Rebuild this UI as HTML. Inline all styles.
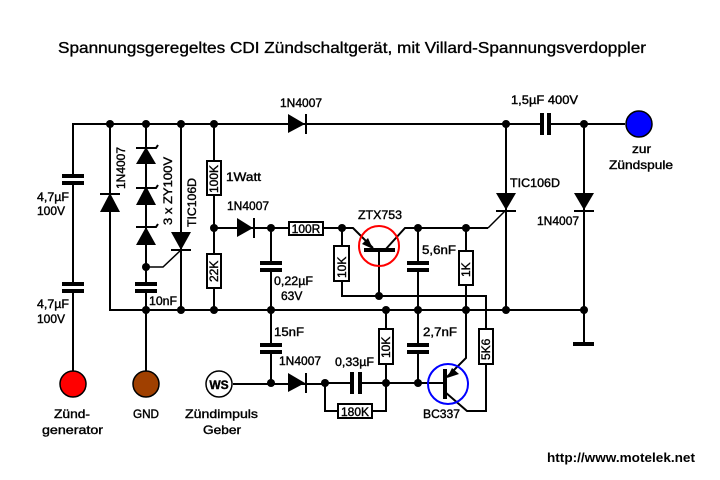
<!DOCTYPE html>
<html><head><meta charset="utf-8"><style>
html,body{margin:0;padding:0;background:#fff}
svg{display:block}
text{font-family:"Liberation Sans",sans-serif;font-size:12px;fill:#000;stroke:#000;stroke-width:.4}
</style></head><body>
<svg width="720" height="480" viewBox="0 0 720 480" xmlns="http://www.w3.org/2000/svg">
<rect width="720" height="480" fill="#fff"/>
<g fill="none" stroke="#000" stroke-width="2">
<path d="M73 175V124H540M551 124H625M73 184V283M73 292V372"/>
<path d="M110 124V310H584M146 124V283M146 292V372M181 124V310M214 124V310M214 228H271M271 228V262M271 270V344M271 351V383M233 384H325M325 383H351M361 383H444"/>
<path d="M271 228H353L373 248M385 250L405 228H488M506 124V310M584 124V344M379 250V296M342 228V296H486V411H467L445 392M386 310V411H325V383M418 228V262M418 270V344M418 351V383M466 228V358L447 377"/>
</g>
<path d="M146 267H163L181 250M488 228L506 210" fill="none" stroke="#000" stroke-width="1.5"/>
<g fill="#000">
<!-- capacitors -->
<rect x="62" y="174" width="22" height="4"/><rect x="62" y="181" width="22" height="4"/>
<rect x="62" y="282" width="22" height="4"/><rect x="62" y="289" width="22" height="4"/>
<rect x="135" y="282" width="22" height="4"/><rect x="135" y="289" width="22" height="4"/>
<rect x="260" y="261" width="22" height="4"/><rect x="260" y="268" width="22" height="4"/>
<rect x="260" y="343" width="22" height="4"/><rect x="260" y="350" width="22" height="4"/>
<rect x="407" y="261" width="22" height="4"/><rect x="407" y="268" width="22" height="4"/>
<rect x="407" y="343" width="22" height="4"/><rect x="407" y="350" width="22" height="4"/>
<rect x="350" y="372" width="4" height="22"/><rect x="358" y="372" width="4" height="22"/>
<rect x="540" y="113" width="4" height="22"/><rect x="547" y="113" width="4" height="22"/>
<!-- diodes -->
<path d="M100 212H120L110 193Z"/><rect x="100" y="193" width="20" height="2"/>
<path d="M288 114V133L305 124Z"/><rect x="305" y="114" width="2" height="20"/>
<path d="M237 218V237L253 228Z"/><rect x="253" y="218" width="2" height="20"/>
<path d="M288 373V392L305 383Z"/><rect x="305" y="373" width="2" height="20"/>
<path d="M574 193H594L584 210Z"/><rect x="574" y="210" width="20" height="2"/>
<path d="M496 193H516L506 210Z"/><rect x="496" y="210" width="20" height="2"/>
<path d="M171 232H191L181 250Z"/><rect x="171" y="249" width="20" height="2"/>
<!-- zeners -->
<path d="M136 164H156L146 147Z"/><path d="M136 205H156L146 186Z"/><path d="M136 245H156L146 227Z"/>
<!-- ground -->
<rect x="573" y="342" width="21" height="4"/>
<!-- nodes -->
<circle cx="110" cy="124" r="4"/><circle cx="146" cy="124" r="4"/><circle cx="181" cy="124" r="4"/><circle cx="214" cy="124" r="4"/>
<circle cx="506" cy="124" r="4"/><circle cx="584" cy="124" r="4"/>
<circle cx="214" cy="228" r="4"/><circle cx="271" cy="228" r="4"/><circle cx="342" cy="228" r="4"/><circle cx="418" cy="228" r="4"/><circle cx="466" cy="228" r="4"/>
<circle cx="146" cy="267" r="4"/><circle cx="379" cy="296" r="4"/>
<circle cx="146" cy="310" r="4"/><circle cx="181" cy="310" r="4"/><circle cx="214" cy="310" r="4"/><circle cx="271" cy="310" r="4"/><circle cx="386" cy="310" r="4"/><circle cx="418" cy="310" r="4"/><circle cx="466" cy="310" r="4"/><circle cx="506" cy="310" r="4"/><circle cx="584" cy="310" r="4"/>
<circle cx="271" cy="383" r="4"/><circle cx="325" cy="383" r="4"/><circle cx="386" cy="383" r="4"/><circle cx="418" cy="383" r="4"/>
</g>
<path d="M136 148H156L158 145M136 188H156L158 185M136 227H156L158 224" fill="none" stroke="#000" stroke-width="2"/>
<!-- resistors -->
<g fill="#fff" stroke="#000" stroke-width="2">
<rect x="207" y="161" width="14" height="34"/><rect x="207" y="254" width="14" height="34"/>
<rect x="289" y="222" width="34" height="13"/>
<rect x="334" y="246" width="15" height="35"/><rect x="459" y="251" width="14" height="34"/>
<rect x="479" y="329" width="14" height="35"/><rect x="379" y="329" width="14" height="35"/>
<rect x="338" y="404" width="34" height="14"/>
</g>
<!-- transistors -->
<circle cx="379" cy="246" r="20" fill="none" stroke="#f00" stroke-width="2"/>
<rect x="364" y="248" width="31" height="4"/>
<path d="M373 249L362 244L368 238Z"/>
<circle cx="448" cy="384" r="20" fill="none" stroke="#00f" stroke-width="2"/>
<rect x="443" y="369" width="4" height="30"/>
<path d="M447 378L459 374L452 368Z"/>
<!-- terminals -->
<circle cx="73" cy="384" r="13" fill="#f00" stroke="#000" stroke-width="1.5"/>
<circle cx="146" cy="384" r="13" fill="#a04000" stroke="#000" stroke-width="1.5"/>
<circle cx="219" cy="384" r="13" fill="#fff" stroke="#000" stroke-width="1.5"/>
<circle cx="639" cy="124" r="13" fill="#00f" stroke="#000" stroke-width="1.5"/>
<!-- text -->
<text x="58" y="53" textLength="588" lengthAdjust="spacingAndGlyphs" style="font-size:16px;stroke-width:.35">Spannungsgeregeltes CDI Zündschaltgerät, mit Villard-Spannungsverdoppler</text>
<text x="280" y="107">1N4007</text>
<text x="511" y="104" textLength="67" lengthAdjust="spacingAndGlyphs">1,5µF 400V</text>
<text x="632" y="153" textLength="19" lengthAdjust="spacingAndGlyphs">zur</text>
<text x="609" y="169" textLength="64" lengthAdjust="spacingAndGlyphs">Zündspule</text>
<text x="510" y="187" textLength="50" lengthAdjust="spacingAndGlyphs">TIC106D</text>
<text x="537" y="225">1N4007</text>
<text x="226" y="181" textLength="35" lengthAdjust="spacingAndGlyphs">1Watt</text>
<text x="227" y="210">1N4007</text>
<text x="306" y="233" text-anchor="middle">100R</text>
<text x="358" y="219" textLength="44" lengthAdjust="spacingAndGlyphs">ZTX753</text>
<text x="422" y="254" textLength="34" lengthAdjust="spacingAndGlyphs">5,6nF</text>
<text x="274" y="285" textLength="39" lengthAdjust="spacingAndGlyphs">0,22µF</text>
<text x="281" y="300">63V</text>
<text x="274" y="336" textLength="30" lengthAdjust="spacingAndGlyphs">15nF</text>
<text x="423" y="336" textLength="34" lengthAdjust="spacingAndGlyphs">2,7nF</text>
<text x="279" y="365">1N4007</text>
<text x="335" y="366" textLength="39" lengthAdjust="spacingAndGlyphs">0,33µF</text>
<text x="355" y="416" text-anchor="middle">180K</text>
<text x="423" y="418" textLength="37" lengthAdjust="spacingAndGlyphs">BC337</text>
<text x="149" y="305" textLength="28" lengthAdjust="spacingAndGlyphs">10nF</text>
<text x="37" y="201" textLength="32" lengthAdjust="spacingAndGlyphs">4,7µF</text>
<text x="37" y="215">100V</text>
<text x="37" y="308" textLength="32" lengthAdjust="spacingAndGlyphs">4,7µF</text>
<text x="37" y="323">100V</text>
<text x="54" y="418" textLength="36" lengthAdjust="spacingAndGlyphs">Zünd-</text>
<text x="42" y="434" textLength="61" lengthAdjust="spacingAndGlyphs">generator</text>
<text x="133" y="418" textLength="26" lengthAdjust="spacingAndGlyphs">GND</text>
<text x="185" y="418" textLength="73" lengthAdjust="spacingAndGlyphs">Zündimpuls</text>
<text x="203" y="434" textLength="38" lengthAdjust="spacingAndGlyphs">Geber</text>
<text x="219" y="389" text-anchor="middle" style="font-weight:bold">WS</text>
<text x="547" y="462" textLength="148" lengthAdjust="spacingAndGlyphs" style="font-size:13px;font-weight:bold;stroke-width:0">http://www.motelek.net</text>
<text transform="translate(125,189) rotate(-90)">1N4007</text>
<text transform="translate(172,225) rotate(-90)" textLength="68" lengthAdjust="spacingAndGlyphs">3 x ZY100V</text>
<text transform="translate(196,227) rotate(-90)" textLength="49" lengthAdjust="spacingAndGlyphs">TIC106D</text>
<text transform="translate(218,193) rotate(-90)">100K</text>
<text transform="translate(218,282) rotate(-90)">22K</text>
<text transform="translate(346,278) rotate(-90)">10K</text>
<text transform="translate(470,277) rotate(-90)">1K</text>
<text transform="translate(490,360) rotate(-90)">5K6</text>
<text transform="translate(390,358) rotate(-90)">10K</text>
</svg>
</body></html>
